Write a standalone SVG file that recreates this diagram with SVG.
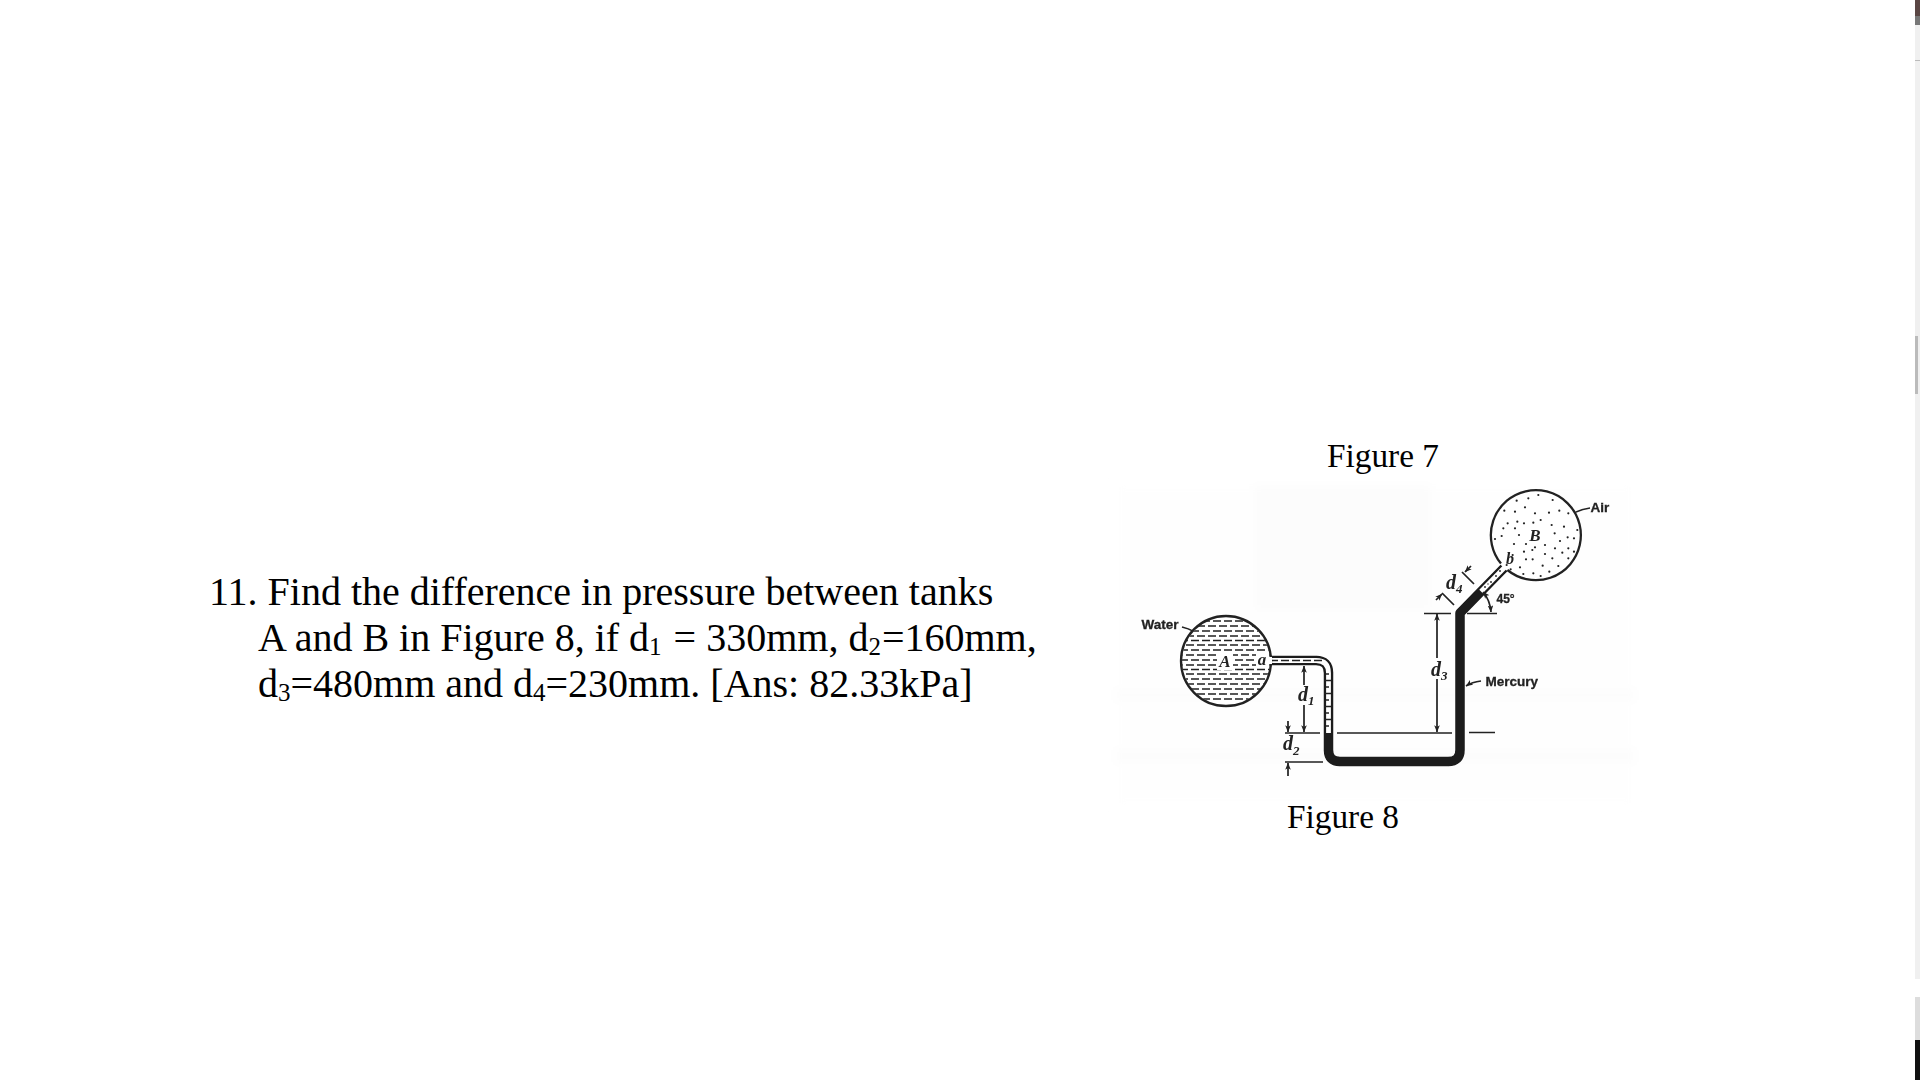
<svg xmlns="http://www.w3.org/2000/svg" width="1920" height="1080" viewBox="0 0 1920 1080">
<style>
.t{font-family:"Liberation Serif","Times New Roman",serif;fill:#000}
.main{font-size:40px}
.fig{font-size:33.3px}
.sub{font-size:25px}
.lab{font-family:"Liberation Sans",Arial,sans-serif;font-weight:700;fill:#222;font-size:13.5px;stroke:#222;stroke-width:.3}
.it{font-family:"Liberation Serif",serif;font-style:italic;font-weight:700;fill:#222}
.l{fill:none;stroke:#222;stroke-width:1.7}
.tube{fill:none;stroke:#1a1a1a;stroke-linejoin:round}
.dash{fill:none;stroke:#222;stroke-width:1.5;stroke-dasharray:8 3}
.dot{fill:#222}
.scan{filter:url(#soft)}
</style>
<defs>
<marker id="ah" viewBox="0 0 10 8" refX="9.5" refY="4" markerWidth="7" markerHeight="6" orient="auto-start-reverse" markerUnits="userSpaceOnUse"><path d="M0 0L10 4L0 8L2.5 4Z" fill="#222"/></marker>
<clipPath id="ca"><circle cx="1226" cy="661" r="44"/></clipPath>
<filter id="soft" x="-5%" y="-5%" width="110%" height="110%"><feGaussianBlur stdDeviation=".35"/></filter>
<filter id="haze" x="-5%" y="-5%" width="110%" height="110%"><feGaussianBlur stdDeviation="5"/></filter>
</defs>
<rect width="1920" height="1080" fill="#fff"/>
<g id="paper-show-through" filter="url(#haze)" fill="#fcfcfc">
<rect x="1115" y="485" width="520" height="320" fill="#fefefe"/>
<rect x="1255" y="485" width="175" height="125"/>
<rect x="1115" y="690" width="520" height="10"/>
<rect x="1115" y="750" width="520" height="12"/>
</g>
<g id="question">
<text class="t main" x="209" y="604.500">11. Find the difference in pressure between tanks</text>
<text class="t main" x="258" y="650.500">A and B in Figure 8, if d<tspan class="sub" dy="4">1</tspan><tspan dy="-4" dx="2"> = 330mm, d</tspan><tspan class="sub" dy="4">2</tspan><tspan dy="-4" dx="1">=160mm,</tspan></text>
<text class="t main" x="258" y="696.500">d<tspan class="sub" dy="4">3</tspan><tspan dy="-4">=480mm and d</tspan><tspan class="sub" dy="4">4</tspan><tspan dy="-4">=230mm. [Ans: 82.33kPa]</tspan></text>
</g>
<text id="fig7" class="t fig" x="1327" y="467">Figure 7</text>
<text id="fig8" class="t fig" x="1287" y="828">Figure 8</text>
<g id="connectors" class="scan">
<path class="tube" stroke-width="9.500" d="M1268 660.500H1316Q1328.500 660.500 1328.500 673V750Q1328.500 761.500 1340 761.500H1448Q1460 761.500 1460 750V613L1504 568"/>
<path fill="none" stroke="#fff" stroke-width="4.800" d="M1268 660.500H1316Q1328.500 660.500 1328.500 673V733"/>
<path fill="none" stroke="#fff" stroke-width="4.800" d="M1481 591.500L1505 567"/>
<path class="dash" d="M1270 660.500H1322"/>
<path class="l" d="M1324 674h5M1324 680.500h7M1324 687h5M1324 693.500h7M1324 700h5M1324 706.500h7M1324 713h5M1324 719.500h7M1324 726h5"/>
<g class="dot"><circle cx="1485" cy="587" r=".9"/><circle cx="1491" cy="582" r=".9"/><circle cx="1488" cy="584" r=".7"/><circle cx="1496" cy="576" r=".9"/><circle cx="1500" cy="571" r=".9"/></g>
<path class="l" d="M1285 733H1320M1337 733H1452M1469 732.500H1495M1285 762H1323M1424 613.500H1451M1467 613.500H1497M1462 572L1474 584M1442 593L1454 605"/>
<path class="l" marker-start="url(#ah)" d="M1304 666V685"/><path class="l" marker-end="url(#ah)" d="M1304 705V732"/>
<path class="l" marker-end="url(#ah)" d="M1288 721V732"/><path class="l" marker-end="url(#ah)" d="M1288 776V763"/>
<path class="l" marker-start="url(#ah)" d="M1437 614V658"/><path class="l" marker-end="url(#ah)" d="M1437 679V732"/>
<path class="l" marker-end="url(#ah)" d="M1471 566L1465 572"/><path class="l" marker-end="url(#ah)" d="M1436 600L1442 594"/>
<path class="l" marker-start="url(#ah)" marker-end="url(#ah)" d="M1483 592Q1490 600 1491 612"/>
<path class="l" marker-end="url(#ah)" d="M1590 508Q1575 510 1564 520"/>
<path class="l" marker-end="url(#ah)" d="M1481 681Q1472 682 1466 686"/>
<path class="l" marker-end="url(#ah)" d="M1182 627Q1195 630 1203 639"/>
</g>
<g id="tank-a" class="scan">
<circle cx="1226" cy="661" r="45" fill="#fff" stroke="#222" stroke-width="2.300"/>
<g clip-path="url(#ca)">
<path class="dash" d="M1180 621H1272M1180 631H1272M1180 640.500H1272M1180 650H1272M1180 660H1272M1180 669.500H1272M1180 679H1272M1180 689H1272M1180 699H1272"/>
<path class="dash" stroke-dashoffset="5" d="M1180 626H1272M1180 636H1272M1180 645H1272M1180 655H1272M1180 665H1272M1180 674H1272M1180 684H1272M1180 694H1272"/>
</g>
<rect x="1217" y="652" width="16" height="18" fill="#fff"/>
<rect x="1256" y="654" width="13" height="14" fill="#fff"/>
<path d="M1270.500 657V664" stroke="#fff" stroke-width="3"/>
<text class="it" x="1225" y="667" text-anchor="middle" font-size="17">A</text>
<text class="it" x="1262" y="665" text-anchor="middle" font-size="17">a</text>
</g>
<g id="tank-b" class="scan">
<path d="M1501 563.600A45 45 0 1 1 1507.400 570" fill="#fff" stroke="#222" stroke-width="2.300"/>
<g class="dot" id="air" transform="translate(1400 470) scale(.3333)">
<circle cx="350" cy="92" r="3.300"/><circle cx="385" cy="85" r="3.300"/><circle cx="415" cy="75" r="3.300"/><circle cx="458" cy="90" r="3.300"/><circle cx="313" cy="122" r="3.300"/><circle cx="345" cy="125" r="3.300"/><circle cx="375" cy="112" r="3.300"/><circle cx="405" cy="130" r="3.300"/><circle cx="447" cy="128" r="3.300"/><circle cx="478" cy="122" r="3.300"/><circle cx="505" cy="130" r="3.300"/><circle cx="323" cy="160" r="3.300"/><circle cx="352" cy="155" r="3.300"/><circle cx="400" cy="158" r="3.300"/><circle cx="422" cy="150" r="3.300"/><circle cx="455" cy="165" r="3.300"/><circle cx="492" cy="170" r="3.300"/><circle cx="532" cy="180" r="3.300"/><circle cx="310" cy="175" r="3.300"/><circle cx="345" cy="175" r="3.300"/><circle cx="372" cy="160" r="3.300"/><circle cx="464" cy="190" r="3.300"/><circle cx="503" cy="202" r="3.300"/><circle cx="285" cy="207" r="3.300"/><circle cx="305" cy="198" r="3.300"/><circle cx="357" cy="195" r="3.300"/><circle cx="480" cy="213" r="3.300"/><circle cx="522" cy="205" r="3.300"/><circle cx="342" cy="222" r="3.300"/><circle cx="378" cy="222" r="3.300"/><circle cx="405" cy="232" r="3.300"/><circle cx="435" cy="225" r="3.300"/><circle cx="465" cy="235" r="3.300"/><circle cx="505" cy="235" r="3.300"/><circle cx="372" cy="245" r="3.300"/><circle cx="397" cy="240" r="3.300"/><circle cx="435" cy="252" r="3.300"/><circle cx="487" cy="248" r="3.300"/><circle cx="522" cy="245" r="3.300"/><circle cx="378" cy="268" r="3.300"/><circle cx="398" cy="268" r="3.300"/><circle cx="457" cy="265" r="3.300"/><circle cx="505" cy="265" r="3.300"/><circle cx="360" cy="292" r="3.300"/><circle cx="428" cy="287" r="3.300"/><circle cx="475" cy="288" r="3.300"/><circle cx="320" cy="285" r="3.300"/><circle cx="332" cy="298" r="3.300"/><circle cx="400" cy="310" r="3.300"/><circle cx="422" cy="318" r="3.300"/><circle cx="448" cy="305" r="3.300"/><circle cx="370" cy="312" r="3.300"/><circle cx="338" cy="255" r="3.300"/>
</g>
<text class="it" x="1535" y="541" text-anchor="middle" font-size="17">B</text>
<text class="it" x="1510" y="564" text-anchor="middle" font-size="16">b</text>
</g>
<g id="labels" class="scan">
<text class="lab" x="1141.500" y="629">Water</text>
<text class="lab" x="1590.500" y="512">Air</text>
<text class="lab" x="1485.500" y="686">Mercury</text>
<text class="lab" x="1496.500" y="603" style="font-size:12px">45°</text>
<text class="it" x="1298" y="701" font-size="20">d<tspan dy="4" font-size="13">1</tspan></text>
<text class="it" x="1283" y="750" font-size="20">d<tspan dy="5" font-size="13">2</tspan></text>
<text class="it" x="1431" y="676" font-size="20">d<tspan dy="4" font-size="13">3</tspan></text>
<text class="it" x="1446" y="589" font-size="20">d<tspan dy="4" font-size="13">4</tspan></text>
</g>
<g id="scrollbar">
<rect x="1915" y="25" width="5" height="954" fill="#f0f0f0"/>
<rect x="1915" y="60" width="5" height="1" fill="#bbb"/>
<rect x="1915" y="0" width="5" height="16" fill="#5a4644"/>
<rect x="1915" y="16" width="5" height="9" fill="#777"/>
<rect x="1915" y="336" width="3" height="58" fill="#bbb"/>
<rect x="1915" y="997" width="5" height="43" fill="#ddd"/>
<rect x="1915" y="1040" width="5" height="40" fill="#111"/>
</g>
</svg>
